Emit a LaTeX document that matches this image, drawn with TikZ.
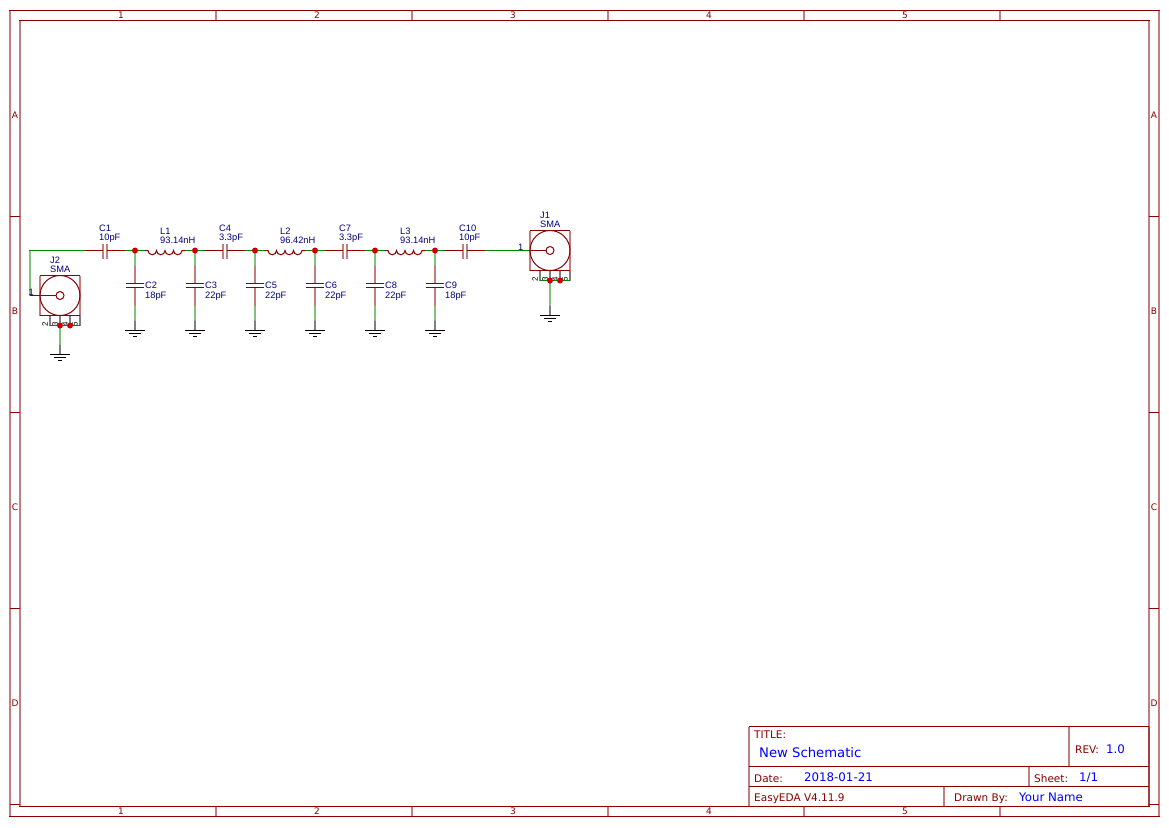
\documentclass[tikz,border=0pt]{standalone}
\usepackage{fontspec}
\setmainfont{DejaVu Sans}
\newfontfamily\partfont{Liberation Sans}
\usetikzlibrary{calc,positioning}

\definecolor{framered}{HTML}{880000}
\definecolor{wiregreen}{HTML}{008800}
\definecolor{partblue}{HTML}{000080}
\definecolor{valueblue}{HTML}{0000FF}
\definecolor{dotred}{HTML}{CC0000}

\tikzset{
  % horizontal lines sit on a pixel row, vertical ones fall between two
  framerule/.style={draw=framered,line width=1pt},
  framestem/.style={draw=framered,line width=2pt,opacity=.5},
  wire/.style={draw=wiregreen,line width=1pt},
  wirestem/.style={draw=wiregreen,line width=2pt,opacity=.5},
  pin/.style={draw=black,line width=1pt},
  pinstem/.style={draw=black,line width=2pt,opacity=.5},
  hub/.style={draw=framered,line width=1pt},
  junction/.style={circle,fill=dotred,inner sep=0pt,minimum size=6pt},
  ticktext/.style={text=framered,font=\fontsize{9}{9}\selectfont,inner sep=0pt},
  blocktext/.style={text=framered,font=\fontsize{10.5}{11}\selectfont,inner sep=0pt,anchor=west},
  blockvalue/.style={text=valueblue,font=\fontsize{11.8}{12}\selectfont,inner sep=0pt,anchor=west},
  partlabel/.style={text=partblue,font=\partfont\fontsize{9.3}{9.3}\selectfont,inner sep=0pt,anchor=base west},
  padtext/.style={text=black,font=\partfont\fontsize{8}{8}\selectfont,inner sep=0pt,rotate=90},
}

\begin{document}
\begin{tikzpicture}[x=1pt,y=-1pt,yshift=-0.5pt]
  \useasboundingbox (0,-0.5) rectangle (1169,826.5);

  % sheet frame
  \draw[framerule] (9,10) -- (1160,10);
  \draw[framerule] (9,816) -- (1160,816);
  \draw[framerule] (19,20) -- (1150,20);
  \draw[framerule] (19,806) -- (1150,806);
  \draw[framestem] (10,10) -- (10,816);
  \draw[framestem] (1159,10) -- (1159,816);
  \draw[framestem] (20,20) -- (20,806);
  \draw[framestem] (1149,20) -- (1149,806);
  \draw[framestem] (216,10) -- (216,20);
  \draw[framestem] (412,10) -- (412,20);
  \draw[framestem] (608,10) -- (608,20);
  \draw[framestem] (804,10) -- (804,20);
  \draw[framestem] (1000,10) -- (1000,20);
  \draw[framestem] (216,806) -- (216,816);
  \draw[framestem] (412,806) -- (412,816);
  \draw[framestem] (608,806) -- (608,816);
  \draw[framestem] (804,806) -- (804,816);
  \draw[framestem] (1000,806) -- (1000,816);
  \draw[framerule] (10,216) -- (20,216);
  \draw[framerule] (10,412) -- (20,412);
  \draw[framerule] (10,608) -- (20,608);
  \draw[framerule] (10,804) -- (20,804);
  \draw[framerule] (1149,216) -- (1159,216);
  \draw[framerule] (1149,412) -- (1159,412);
  \draw[framerule] (1149,608) -- (1159,608);
  \draw[framerule] (1149,804) -- (1159,804);

  \node[ticktext] (top1) at (121,15) {1};
  \node[ticktext] (top2) at (317,15) {2};
  \node[ticktext] (top3) at (513,15) {3};
  \node[ticktext] (top4) at (709,15) {4};
  \node[ticktext] (top5) at (905,15) {5};
  \node[ticktext] (bot1) at (121,811) {1};
  \node[ticktext] (bot2) at (317,811) {2};
  \node[ticktext] (bot3) at (513,811) {3};
  \node[ticktext] (bot4) at (709,811) {4};
  \node[ticktext] (bot5) at (905,811) {5};
  \node[ticktext] (leftA) at (15,115) {A};
  \node[ticktext] (leftB) at (15,311) {B};
  \node[ticktext] (leftC) at (15,507) {C};
  \node[ticktext] (leftD) at (15,703) {D};
  \node[ticktext] (rightA) at (1154,115) {A};
  \node[ticktext] (rightB) at (1154,311) {B};
  \node[ticktext] (rightC) at (1154,507) {C};
  \node[ticktext] (rightD) at (1154,703) {D};

  % title block
  \draw[framerule] (749,726) -- (1149,726);
  \draw[framerule] (749,766) -- (1149,766);
  \draw[framerule] (749,786) -- (1149,786);
  \draw[framestem] (749,726) -- (749,806);
  \draw[framestem] (1149,726) -- (1149,806);
  \draw[framestem] (1069,726) -- (1069,766);
  \draw[framestem] (1029,766) -- (1029,786);
  \draw[framestem] (944,786) -- (944,806);
  \node[blocktext] (titlekey) at (754,734) {TITLE:};
  \node[blockvalue,font=\fontsize{13.2}{14}\selectfont] (title) at (759,752) {New Schematic};
  \node[blocktext] (revkey) at (1075,749) {REV:};
  \node[blockvalue] (rev) at (1106,749) {1.0};
  \node[blocktext] (datekey) at (754,778) {Date:};
  \node[blockvalue] (date) at (804,777) {2018-01-21};
  \node[blocktext] (sheetkey) at (1034,778) {Sheet:};
  \node[blockvalue] (sheet) at (1079,777) {1/1};
  \node[blocktext] (tool) at (754,798) {EasyEDA V4.11.9};
  \node[blocktext] (drawnkey) at (954,798) {Drawn By:};
  \node[blockvalue] (drawn) at (1019,797) {Your Name};

  % main line
  \coordinate (inJ2) at (30,295);
  \coordinate (inCorner) at (30,250);
  \coordinate (c1L) at (85,250);
  \coordinate (c1A) at (103,250);
  \coordinate (c1B) at (107,250);
  \coordinate (c1R) at (125,250);
  \coordinate (l1L) at (145,250);
  \coordinate (l1A) at (148,250);
  \coordinate (l1R) at (185,250);
  \coordinate (c4L) at (205,250);
  \coordinate (c4A) at (223,250);
  \coordinate (c4B) at (227,250);
  \coordinate (c4R) at (245,250);
  \coordinate (l2L) at (265,250);
  \coordinate (l2A) at (268,250);
  \coordinate (l2R) at (305,250);
  \coordinate (c7L) at (325,250);
  \coordinate (c7A) at (343,250);
  \coordinate (c7B) at (347,250);
  \coordinate (c7R) at (365,250);
  \coordinate (l3L) at (385,250);
  \coordinate (l3A) at (388,250);
  \coordinate (l3R) at (425,250);
  \coordinate (c10L) at (445,250);
  \coordinate (c10A) at (463,250);
  \coordinate (c10B) at (467,250);
  \coordinate (c10R) at (485,250);
  \coordinate (j1Pin) at (530,250);
  \coordinate (j1Hub) at (546,250);

  \draw[wirestem] (inJ2) -- (inCorner);
  \draw[wire] (29,250) -- (c1L);
  \draw[wire] (c1R) -- (l1L);
  \draw[wire] (l1R) -- (c4L);
  \draw[wire] (c4R) -- (l2L);
  \draw[wire] (l2R) -- (c7L);
  \draw[wire] (c7R) -- (l3L);
  \draw[wire] (l3R) -- (c10L);
  \draw[wire] (c10R) -- (j1Pin);

  % series capacitors
  \draw[framerule] (c1L) -- (c1A) (c1B) -- (c1R);
  \draw[framestem] (103,243) -- (103,258) (107,243) -- (107,258);
  \draw[framerule] (c4L) -- (c4A) (c4B) -- (c4R);
  \draw[framestem] (223,243) -- (223,258) (227,243) -- (227,258);
  \draw[framerule] (c7L) -- (c7A) (c7B) -- (c7R);
  \draw[framestem] (343,243) -- (343,258) (347,243) -- (347,258);
  \draw[framerule] (c10L) -- (c10A) (c10B) -- (c10R);
  \draw[framestem] (463,243) -- (463,258) (467,243) -- (467,258);

  % inductors
  \draw[hub] (l1L) -- (l1A) arc (180:0:4.25) arc (180:0:4.25) arc (180:0:4.25) arc (180:0:4.25) -- (l1R);
  \draw[hub] (l2L) -- (l2A) arc (180:0:4.25) arc (180:0:4.25) arc (180:0:4.25) arc (180:0:4.25) -- (l2R);
  \draw[hub] (l3L) -- (l3A) arc (180:0:4.25) arc (180:0:4.25) arc (180:0:4.25) arc (180:0:4.25) -- (l3R);

  % shunt capacitors
  \coordinate (n1) at (135,250);
  \coordinate (n2) at (195,250);
  \coordinate (n3) at (255,250);
  \coordinate (n4) at (315,250);
  \coordinate (n5) at (375,250);
  \coordinate (n6) at (435,250);

  \draw[wirestem] (n1) -- (135,265);
  \draw[framestem] (135,265) -- (135,283) (135,287) -- (135,305);
  \draw[framerule] (126,283) -- (144,283) (126,287) -- (144,287);
  \draw[wirestem] (135,305) -- (135,320);
  \draw[pinstem] (135,320) -- (135,330);
  \draw[wirestem] (n2) -- (195,265);
  \draw[framestem] (195,265) -- (195,283) (195,287) -- (195,305);
  \draw[framerule] (186,283) -- (204,283) (186,287) -- (204,287);
  \draw[wirestem] (195,305) -- (195,320);
  \draw[pinstem] (195,320) -- (195,330);
  \draw[wirestem] (n3) -- (255,265);
  \draw[framestem] (255,265) -- (255,283) (255,287) -- (255,305);
  \draw[framerule] (246,283) -- (264,283) (246,287) -- (264,287);
  \draw[wirestem] (255,305) -- (255,320);
  \draw[pinstem] (255,320) -- (255,330);
  \draw[wirestem] (n4) -- (315,265);
  \draw[framestem] (315,265) -- (315,283) (315,287) -- (315,305);
  \draw[framerule] (306,283) -- (324,283) (306,287) -- (324,287);
  \draw[wirestem] (315,305) -- (315,320);
  \draw[pinstem] (315,320) -- (315,330);
  \draw[wirestem] (n5) -- (375,265);
  \draw[framestem] (375,265) -- (375,283) (375,287) -- (375,305);
  \draw[framerule] (366,283) -- (384,283) (366,287) -- (384,287);
  \draw[wirestem] (375,305) -- (375,320);
  \draw[pinstem] (375,320) -- (375,330);
  \draw[wirestem] (n6) -- (435,265);
  \draw[framestem] (435,265) -- (435,283) (435,287) -- (435,305);
  \draw[framerule] (426,283) -- (444,283) (426,287) -- (444,287);
  \draw[wirestem] (435,305) -- (435,320);
  \draw[pinstem] (435,320) -- (435,330);

  % grounds
  \draw[pin] (125,330) -- (145,330) (129,333) -- (141,333) (133,336) -- (137,336);
  \draw[pin] (185,330) -- (205,330) (189,333) -- (201,333) (193,336) -- (197,336);
  \draw[pin] (245,330) -- (265,330) (249,333) -- (261,333) (253,336) -- (257,336);
  \draw[pin] (305,330) -- (325,330) (309,333) -- (321,333) (313,336) -- (317,336);
  \draw[pin] (365,330) -- (385,330) (369,333) -- (381,333) (373,336) -- (377,336);
  \draw[pin] (425,330) -- (445,330) (429,333) -- (441,333) (433,336) -- (437,336);

  \node[junction] (j1) at (n1) {};
  \node[junction] (j2) at (n2) {};
  \node[junction] (j3) at (n3) {};
  \node[junction] (j4) at (n4) {};
  \node[junction] (j5) at (n5) {};
  \node[junction] (j6) at (n6) {};

  % connector J2
  \draw[framerule] (40,275) -- (80,275) (40,315) -- (80,315);
  \draw[framestem] (40,275) -- (40,315) (80,275) -- (80,315);
  \draw[hub] (60,295) circle (20);
  \draw[hub] (60,295) circle (4);
  \draw[framerule] (inJ2) -- (56,295);
  \draw[pinstem] (50,315) -- (50,325);
  \draw[pinstem] (60,315) -- (60,325);
  \draw[pinstem] (70,315) -- (70,325);
  \draw[pinstem] (80,315) -- (80,325);
  \node[padtext] (j2p2) at (45,324) {2};
  \node[padtext] (j2p3) at (55,324) {3};
  \node[padtext] (j2p4) at (65,324) {4};
  \node[padtext] (j2p5) at (75,324) {5};
  \draw[wire] (50,325) -- (80,325);
  \draw[wirestem] (60,325) -- (60,344);
  \draw[pinstem] (60,344) -- (60,354);
  \draw[pin] (50,354) -- (70,354) (54,357) -- (66,357) (58,360) -- (62,360);
  \node[junction] (j2a) at (60,325) {};
  \node[junction] (j2b) at (70,325) {};

  % connector J1
  \draw[framerule] (530,230) -- (570,230) (530,270) -- (570,270);
  \draw[framestem] (530,230) -- (530,270) (570,230) -- (570,270);
  \draw[hub] (550,250) circle (20);
  \draw[hub] (550,250) circle (4);
  \draw[framerule] (j1Pin) -- (j1Hub);
  \draw[pinstem] (540,270) -- (540,280);
  \draw[pinstem] (550,270) -- (550,280);
  \draw[pinstem] (560,270) -- (560,280);
  \draw[pinstem] (570,270) -- (570,280);
  \node[padtext] (j1p2) at (535,279) {2};
  \node[padtext] (j1p3) at (545,279) {3};
  \node[padtext] (j1p4) at (555,279) {4};
  \node[padtext] (j1p5) at (565,279) {5};
  \draw[wire] (540,280) -- (570,280);
  \draw[wirestem] (550,280) -- (550,305);
  \draw[pinstem] (550,305) -- (550,315);
  \draw[pin] (540,315) -- (560,315) (544,318) -- (556,318) (548,321) -- (552,321);
  \node[junction] (j1a) at (550,280) {};
  \node[junction] (j1b) at (560,280) {};

  % part labels
  \node[partlabel] (C1name) at (99,231) {C1};
  \node[partlabel] (C1val) at (99,240) {10pF};
  \node[partlabel] (L1name) at (160,234) {L1};
  \node[partlabel] (L1val) at (160,243) {93.14nH};
  \node[partlabel] (C4name) at (219,231) {C4};
  \node[partlabel] (C4val) at (219,240) {3.3pF};
  \node[partlabel] (L2name) at (280,234) {L2};
  \node[partlabel] (L2val) at (280,243) {96.42nH};
  \node[partlabel] (C7name) at (339,231) {C7};
  \node[partlabel] (C7val) at (339,240) {3.3pF};
  \node[partlabel] (L3name) at (400,234) {L3};
  \node[partlabel] (L3val) at (400,243) {93.14nH};
  \node[partlabel] (C10name) at (459,231) {C10};
  \node[partlabel] (C10val) at (459,240) {10pF};
  \node[partlabel] (C2name) at (145,288) {C2};
  \node[partlabel] (C2val) at (145,298) {18pF};
  \node[partlabel] (C3name) at (205,288) {C3};
  \node[partlabel] (C3val) at (205,298) {22pF};
  \node[partlabel] (C5name) at (265,288) {C5};
  \node[partlabel] (C5val) at (265,298) {22pF};
  \node[partlabel] (C6name) at (325,288) {C6};
  \node[partlabel] (C6val) at (325,298) {22pF};
  \node[partlabel] (C8name) at (385,288) {C8};
  \node[partlabel] (C8val) at (385,298) {22pF};
  \node[partlabel] (C9name) at (445,288) {C9};
  \node[partlabel] (C9val) at (445,298) {18pF};
  \node[partlabel] (J2name) at (50,263) {J2};
  \node[partlabel] (J2val) at (50,272) {SMA};
  \node[partlabel] (J1name) at (540,218) {J1};
  \node[partlabel] (J1val) at (540,227) {SMA};
  \node[partlabel] (J2pin) at (28.5,295) {1};
  \node[partlabel] (J1pin) at (518,250) {1};
\end{tikzpicture}
\end{document}
